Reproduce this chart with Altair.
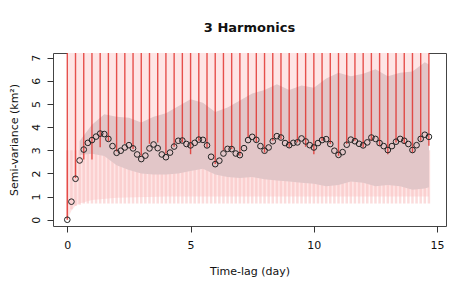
import altair as alt
import pandas as pd

# Empirical semi-variance every 4 hours (1/6 day)
semivar = [0, 0.78, 1.77, 2.56, 3.03, 3.32, 3.44, 3.59, 3.72, 3.70,
           3.49, 3.18, 2.89, 2.98, 3.12, 3.22, 3.08, 2.82, 2.62, 2.77,
           3.08, 3.25, 3.09, 2.82, 2.70, 2.90, 3.16, 3.41, 3.42, 3.27,
           3.21, 3.32, 3.46, 3.45, 3.21, 2.72, 2.40, 2.55, 2.86, 3.06,
           3.05, 2.86, 2.79, 3.09, 3.44, 3.58, 3.45, 3.18, 2.98, 3.12,
           3.39, 3.61, 3.55, 3.31, 3.22, 3.32, 3.34, 3.51, 3.38, 3.22,
           3.12, 3.31, 3.44, 3.48, 3.27, 2.98, 2.80, 2.92, 3.24, 3.46,
           3.39, 3.28, 3.21, 3.34, 3.55, 3.49, 3.31, 3.18, 3.01, 3.18,
           3.37, 3.49, 3.41, 3.27, 3.01, 3.22, 3.49, 3.67, 3.58]
lags = [i / 6 for i in range(len(semivar))]

# Fitted model: dips every 8 hours (1/3 day), otherwise above the plot
spike_bottom = [0, 1.8, 2.6, 2.6, 3.13, 3.4, 2.95, 3.28, 3.06, 2.76,
                3.28, 3.34, 2.85, 3.15, 3.34, 2.83, 3.41, 3.12, 2.41, 2.98,
                3.05, 2.76, 3.55, 3.34, 2.9, 3.41, 3.48, 3.12, 3.34, 3.15,
                2.83, 3.41, 3.27, 2.76, 3.27, 3.41, 3.12, 3.41, 3.19, 2.83,
                3.34, 3.27, 2.9, 3.41, 3.19]
spike_lags = [k / 3 for k in range(len(spike_bottom))]
MODEL_TOP = 7.8

# Inner (darker) envelope
band_t = [0.5, 1.0, 1.5, 2.0, 2.5, 3.0, 3.5, 4.0, 4.5, 5.0, 5.5, 6.0, 6.5, 7.0,
          7.5, 8.0, 8.5, 9.0, 9.5, 10.0, 10.5, 11.0, 11.5, 12.0, 12.5, 13.0,
          13.5, 14.0, 14.5, 14.67]
band_hi = [3.4, 4.1, 4.55, 4.45, 4.4, 4.2, 4.45, 4.6, 4.9, 5.2, 5.05, 4.65, 4.85,
           5.15, 5.45, 5.6, 5.85, 5.6, 5.8, 5.7, 6.1, 6.35, 6.2, 6.3, 6.5, 6.2,
           6.35, 6.4, 6.8, 6.7]
band_lo = [2.8, 2.85, 2.75, 2.35, 2.15, 2.0, 1.95, 1.95, 2.0, 2.1, 2.2, 1.95, 1.85,
           1.8, 1.85, 1.75, 1.7, 1.65, 1.6, 1.55, 1.45, 1.5, 1.65, 1.6, 1.45, 1.5,
           1.45, 1.3, 1.35, 1.4]

# Outer (light) envelope lower edge
outer_t = [0, 0.17, 0.33, 0.5, 1.0, 2.0, 4.0, 6.0, 8.0, 10.0, 12.0, 14.0, 14.67]
outer_lo = [0, 0.4, 0.6, 0.7, 0.85, 0.95, 1.0, 1.0, 1.0, 1.0, 1.0, 1.0, 1.0]

# Lower stripes of the envelope every 4 hours
stripe_low = [0, 0.45, 0.6, 0.65] + [0.7] * (len(semivar) - 4)
STRIPE_TOP = 3.0

pts = pd.DataFrame({"t": lags, "lo": semivar})
spikes = pd.DataFrame({"t": spike_lags, "lo": spike_bottom, "hi": MODEL_TOP})
inner = pd.DataFrame({"t": band_t, "lo": band_lo, "hi": band_hi})
outer = pd.DataFrame({"t": outer_t, "lo": outer_lo, "hi": MODEL_TOP})
stripes = pd.DataFrame({"t": lags, "lo": stripe_low, "hi": STRIPE_TOP})

FONT = "DejaVu Sans"
xscale = alt.Scale(domain=[-0.58, 15.36], nice=False, zero=False)
yscale = alt.Scale(domain=[-0.27, 7.2], nice=False, zero=False)
xaxis = alt.Axis(values=[0, 5, 10, 15], title="Time-lag (day)", grid=False,
                 domain=False, tickSize=6, tickColor="#333", labelPadding=7,
                 labelFont=FONT, labelFontSize=11, labelColor="#111",
                 labelOverlap=False,
                 titleFont=FONT, titleFontSize=11, titleFontWeight="normal",
                 titleColor="#111", titlePadding=15)
yaxis = alt.Axis(values=[0, 1, 2, 3, 4, 5, 6, 7], title="Semi-variance (km²)",
                 grid=False, domain=False, tickSize=6, tickColor="#333",
                 labelPadding=6, labelAngle=270, labelAlign="center",
                 labelBaseline="bottom", labelOverlap=False,
                 labelFont=FONT, labelFontSize=11, labelColor="#111",
                 titleFont=FONT, titleFontSize=11, titleFontWeight="normal",
                 titleColor="#111", titlePadding=11)

X = alt.X("t:Q", scale=xscale, axis=xaxis)
Y = alt.Y("lo:Q", scale=yscale, axis=yaxis)

outer_area = alt.Chart(outer).mark_area(color="#FEE5E5", clip=True).encode(
    x=X, y=Y, y2="hi:Q")
stripe_rules = alt.Chart(stripes).mark_rule(
    color="#F7C0C0", opacity=0.55, strokeWidth=2.5, clip=True
).encode(x=X, y=Y, y2="hi:Q")
inner_area = alt.Chart(inner).mark_area(color="#E2C6C8", clip=True).encode(
    x=X, y=Y, y2="hi:Q")
spike_rules = alt.Chart(spikes).mark_rule(
    color="#E02A26", opacity=0.8, strokeWidth=1.4, clip=True
).encode(x=X, y=Y, y2="hi:Q")
points = alt.Chart(pts).mark_point(
    shape="circle", filled=False, size=32, stroke="#222", strokeWidth=1, opacity=1
).encode(x=X, y=Y)

chart = alt.layer(outer_area, stripe_rules, inner_area, spike_rules, points).properties(
    width=393, height=173,
    padding={"left": 53, "top": 53, "right": 28, "bottom": 66},
    autosize=alt.AutoSizeParams(type="none"),
    title=alt.TitleParams("3 Harmonics", font=FONT, fontSize=13, fontWeight="bold",
                          color="#111", anchor="middle", offset=18),
    background="white",
).configure_view(stroke="#444", strokeWidth=1)

chart.save("out.html", embed_options={"renderer": "svg", "actions": False})
